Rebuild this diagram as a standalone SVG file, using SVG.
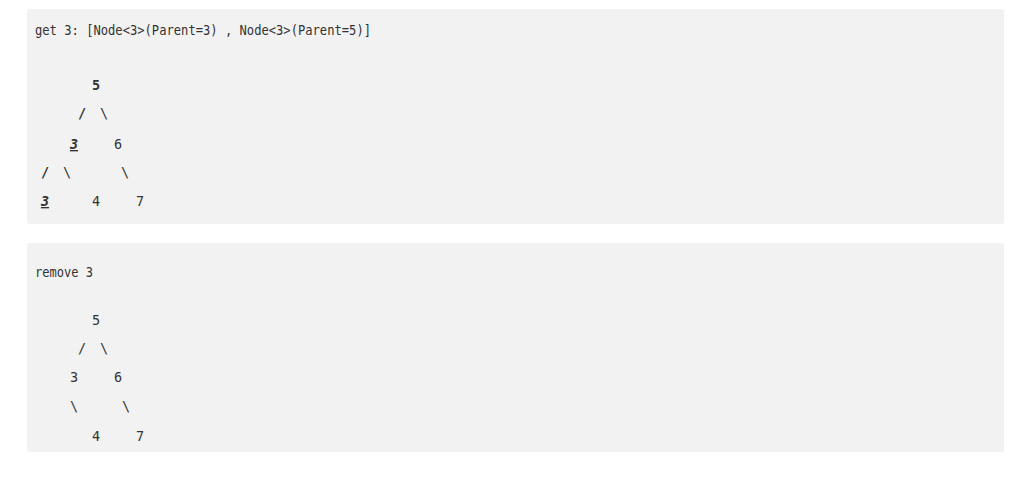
<svg xmlns="http://www.w3.org/2000/svg" width="1024" height="486" viewBox="0 0 1024 486">
<style>
.box{fill:#f2f2f2}
text{font-family:"DejaVu Sans Mono","Liberation Mono",monospace;font-size:13.5px;fill:#333}
.c{text-anchor:middle}
.b{font-weight:bold}
.bi{font-weight:bold;font-style:italic;text-decoration:underline}
</style>
<rect width="1024" height="486" fill="#fff"/>
<g id="block1">
<rect class="box" x="27" y="9" width="977" height="215" rx="3"/>
<text x="35" y="35" textLength="336" lengthAdjust="spacingAndGlyphs">get 3: [Node&lt;3&gt;(Parent=3) , Node&lt;3&gt;(Parent=5)]</text>
<text class="c b" x="96" y="90">5</text>
<text class="c b" x="82" y="118">/</text>
<text class="c" x="104" y="118">\</text>
<text class="c bi" x="74" y="149">3</text>
<text class="c" x="118" y="149">6</text>
<text class="c b" x="45" y="177">/</text>
<text class="c" x="67" y="177">\</text>
<text class="c" x="125" y="177">\</text>
<text class="c bi" x="45" y="206">3</text>
<text class="c" x="96" y="206">4</text>
<text class="c" x="140" y="206">7</text>
</g>
<g id="block2">
<rect class="box" x="27" y="243" width="977" height="209" rx="3"/>
<text x="35" y="277" textLength="58" lengthAdjust="spacingAndGlyphs">remove 3</text>
<text class="c" x="96" y="325">5</text>
<text class="c" x="82" y="353">/</text>
<text class="c" x="104" y="353">\</text>
<text class="c" x="74" y="382">3</text>
<text class="c" x="118" y="382">6</text>
<text class="c" x="74" y="411">\</text>
<text class="c" x="126" y="411">\</text>
<text class="c" x="96" y="441">4</text>
<text class="c" x="140" y="441">7</text>
</g>
</svg>
